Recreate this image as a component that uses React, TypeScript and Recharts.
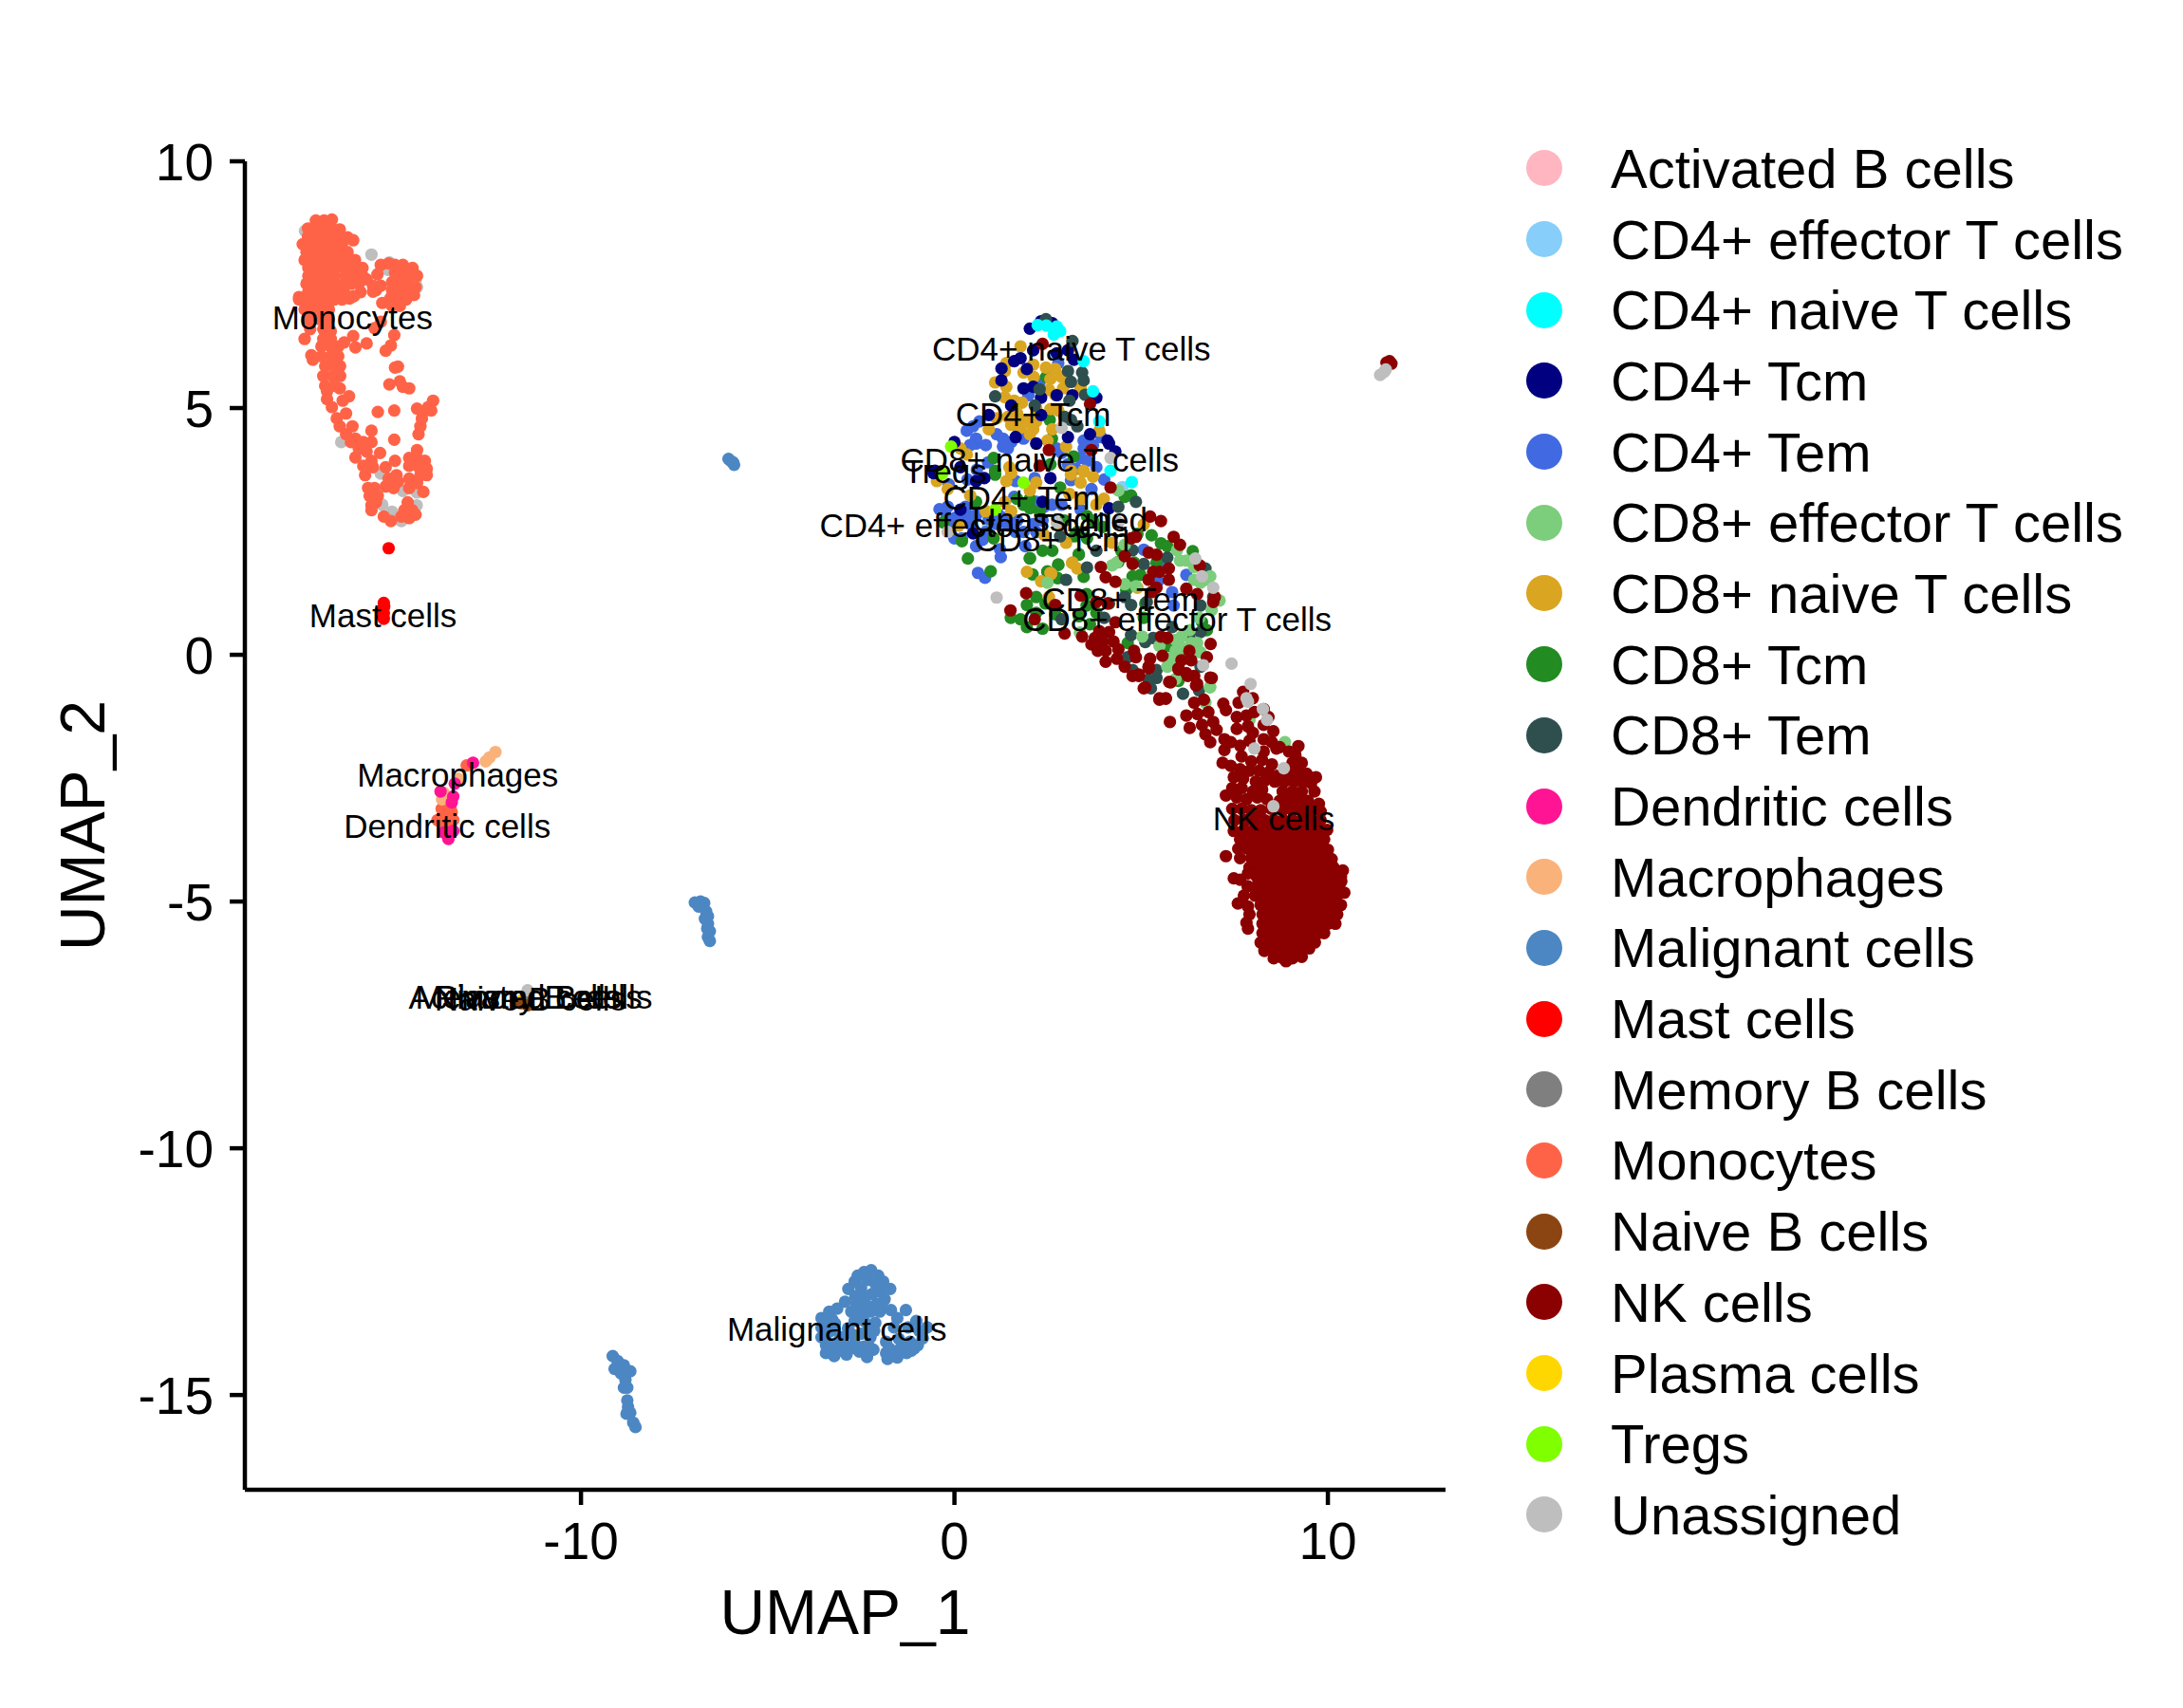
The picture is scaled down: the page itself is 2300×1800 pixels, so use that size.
import { Label, Legend, Scatter, ScatterChart, XAxis, YAxis } from "recharts";

const FONT = '"Liberation Sans", Arial, sans-serif';

const categories = [
  "Activated B cells", "CD4+ effector T cells", "CD4+ naive T cells", "CD4+ Tcm", "CD4+ Tem",
  "CD8+ effector T cells", "CD8+ naive T cells", "CD8+ Tcm", "CD8+ Tem", "Dendritic cells",
  "Macrophages", "Malignant cells", "Mast cells", "Memory B cells", "Monocytes",
  "Naive B cells", "NK cells", "Plasma cells", "Tregs", "Unassigned",
];
const categoryColors = [
  "#FFB6C1", "#87CEFA", "#00FFFF", "#000080", "#4169E1",
  "#7CCD7C", "#DAA520", "#228B22", "#2F4F4F", "#FF1493",
  "#FAB27B", "#4C87C3", "#FF0000", "#7F7F7F", "#FF6347",
  "#8B4513", "#8B0000", "#FFD700", "#7FFF00", "#BEBEBE",
];

const xTicks = [-10, 0, 10];
const yTicks = [-15, -10, -5, 0, 5, 10];

const labelNames = [
  "Monocytes", "Mast cells", "Macrophages", "Dendritic cells", "Activated B cells", "Memory B cells",
  "Plasma cells", "Naive B cells", "CD4+ naive T cells", "CD4+ Tcm", "CD8+ naive T cells", "Tregs",
  "CD4+ Tem", "Unassigned", "CD4+ effector T cells", "CD8+ Tcm", "CD8+ Tem", "CD8+ effector T cells",
  "NK cells", "Malignant cells",
];
const labelX = [-16.12, -15.3, -13.3, -13.58, -11.35, -11.4, -11.4, -11.35, 3.13, 2.11, 2.28, -0.25, 1.8, 2.82, 0.53, 2.61, 4.44, 5.96, 8.55, -3.15];
const labelY = [6.83, 0.79, -2.44, -3.46, -6.94, -6.94, -6.94, -6.96, 6.21, 4.87, 3.96, 3.73, 3.19, 2.75, 2.62, 2.33, 1.13, 0.73, -3.31, -13.67];

const activatedB = [[-11.5, -6.95]];
const memoryB = [[-11.42, -6.86]];
const naiveB = [[-11.6, -7.06], [-11.43, -7.1]];
const plasma = [[-11.55, -6.98]];
const cd4Effector = [[4.5, 3.4], [0.9, 2.6]];
const tregs = [[-0.09, 4.22], [-0.33, 3.67], [-0.35, 3.68], [1.85, 3.49], [1.09, 2.94]];
const mast = [[-15.15, 2.16], [-15.28, 1.05], [-15.27, 0.98], [-15.3, 0.9], [-15.28, 0.84], [-15.3, 0.77], [-15.28, 0.73]];
const macrophages = [[-12.29, -1.97], [-12.45, -2.08], [-12.55, -2.16], [-13.29, -2.51], [-13.67, -2.8], [-13.72, -2.93]];
const dendritic = [
  [-12.89, -2.19], [-13.38, -2.61], [-13.76, -2.77], [-13.42, -2.87], [-13.46, -2.99], [-13.55, -3.73],
  [-13.55, -3.6], [-13.42, -3.57], [-13.67, -3.6],
];
const malignant = [
  [-6.05, 3.97], [-5.98, 3.92], [-5.9, 3.85], [-5.93, 3.9],
  [-6.95, -5.02], [-6.8, -5.0], [-6.7, -5.03], [-6.85, -5.1], [-6.65, -5.2], [-6.6, -5.3], [-6.68, -5.35],
  [-6.6, -5.45], [-6.55, -5.6], [-6.6, -5.72], [-6.55, -5.8], [-6.62, -5.55],
  [-9.15, -14.21], [-9.02, -14.31], [-9.1, -14.47], [-8.85, -14.4], [-8.68, -14.52], [-8.93, -14.56], [-8.81, -14.69],
  [-8.76, -14.85], [-8.85, -14.85], [-8.76, -15.11], [-8.74, -15.24], [-8.68, -15.36], [-8.78, -15.38], [-8.6, -15.56], [-8.54, -15.65],
  [-2.23, -12.47], [-2.42, -12.51], [-2.59, -12.58], [-2.67, -12.7], [-2.04, -12.58], [-2.34, -12.67], [-2.12, -12.74],
  [-1.91, -12.7], [-1.72, -12.85], [-2.84, -12.85], [-2.5, -12.83], [-2.0, -12.9], [-2.46, -12.96], [-1.87, -13.06],
  [-2.93, -13.11], [-2.63, -13.15], [-2.38, -13.15], [-2.08, -13.15], [-3.14, -13.25], [-3.35, -13.31], [-3.56, -13.44],
  [-2.76, -13.31], [-2.5, -13.31], [-2.25, -13.31], [-2.0, -13.31], [-1.7, -13.28], [-1.3, -13.28], [-1.53, -13.44],
  [-3.27, -13.47], [-2.67, -13.5], [-2.42, -13.5], [-2.12, -13.54], [-1.02, -13.5], [-1.24, -13.63], [-0.73, -13.63],
  [-0.94, -13.7], [-1.62, -13.63], [-3.56, -13.63], [-3.31, -13.7], [-3.56, -13.83], [-3.05, -13.83], [-2.76, -13.76],
  [-2.5, -13.76], [-2.25, -13.83], [-1.83, -13.92], [-1.19, -13.92], [-0.98, -13.99], [-1.49, -13.86], [-3.44, -13.99],
  [-3.18, -13.95], [-2.93, -13.99], [-2.67, -13.95], [-2.42, -14.02], [-2.17, -14.08], [-3.44, -14.15], [-3.22, -14.21],
  [-2.89, -14.18], [-2.34, -14.23], [-1.83, -14.15], [-1.79, -14.27], [-1.53, -14.24], [-1.28, -14.15], [-1.57, -14.11], [-1.07, -14.05],
  [-3.4, -13.6], [-3.2, -13.55], [-3.45, -13.8], [-3.3, -14.0], [-3.05, -14.1], [-2.75, -14.05], [-2.55, -14.12], [-2.3, -14.0],
  [-2.15, -13.7], [-1.95, -13.2], [-1.4, -14.0], [-1.15, -14.1], [-0.85, -13.85], [-1.75, -14.05], [-2.85, -13.65], [-2.3, -13.6], [-2.65, -13.0], [-2.2, -12.95],
];
const monocytes = [
  [-17.1, 8.8], [-16.88, 8.8], [-16.67, 8.82], [-17.31, 8.64], [-17.09, 8.64], [-16.88, 8.64], [-16.67, 8.64], [-16.46, 8.62],
  [-17.31, 8.48], [-17.09, 8.48], [-16.88, 8.48], [-16.67, 8.48], [-16.46, 8.48], [-16.25, 8.46],
  [-17.45, 8.32], [-17.25, 8.32], [-17.0, 8.32], [-16.8, 8.32], [-16.6, 8.32], [-16.4, 8.32], [-16.1, 8.4],
  [-17.35, 8.16], [-17.1, 8.16], [-16.9, 8.16], [-16.65, 8.16], [-16.45, 8.16], [-16.25, 8.16],
  [-17.4, 8.0], [-17.15, 8.0], [-16.95, 8.0], [-16.7, 8.0], [-16.5, 8.0], [-16.25, 8.0], [-16.05, 8.0],
  [-17.3, 7.84], [-17.1, 7.84], [-16.85, 7.84], [-16.6, 7.84], [-16.35, 7.84], [-16.1, 7.84], [-15.85, 7.84],
  [-17.3, 7.68], [-17.05, 7.68], [-16.8, 7.68], [-16.6, 7.68], [-16.3, 7.68], [-16.05, 7.68], [-15.85, 7.68],
  [-17.35, 7.52], [-17.1, 7.52], [-16.85, 7.52], [-16.6, 7.52], [-16.35, 7.52], [-16.15, 7.52], [-15.95, 7.52],
  [-17.55, 7.25], [-17.3, 7.36], [-17.05, 7.36], [-16.85, 7.36], [-16.6, 7.36], [-16.35, 7.36],
  [-17.55, 7.2], [-17.3, 7.2], [-17.05, 7.2], [-16.85, 7.2], [-16.6, 7.2], [-16.4, 7.2], [-16.2, 7.22], [-16.08, 7.27], [-15.9, 7.35],
  [-17.4, 7.0], [-17.2, 7.0], [-16.95, 7.0], [-16.75, 7.0], [-17.3, 6.8], [-17.0, 6.8], [-16.75, 6.8],
  [-17.25, 6.6], [-16.9, 6.6], [-16.7, 6.56], [-17.4, 6.4], [-16.9, 6.4], [-16.7, 6.4],
  [-16.95, 6.25], [-16.7, 6.25], [-16.5, 6.25], [-16.34, 6.33], [-16.1, 6.46], [-16.04, 6.23], [-15.74, 6.31],
  [-16.95, 6.05], [-16.7, 6.05], [-16.5, 6.05], [-17.22, 6.07], [-17.18, 5.98], [-16.85, 5.85], [-16.6, 5.85], [-16.45, 5.85],
  [-16.9, 5.65], [-16.65, 5.65], [-16.45, 5.65], [-16.85, 5.45], [-16.6, 5.45],
  [-16.8, 5.34], [-16.46, 5.4], [-16.8, 5.18], [-16.38, 5.15], [-16.21, 5.24], [-16.67, 5.02], [-16.29, 4.89], [-16.54, 4.79],
  [-16.46, 4.63], [-16.12, 4.63], [-16.29, 4.47], [-16.04, 4.38], [-15.83, 4.31], [-15.61, 4.54], [-15.61, 4.31], [-16.16, 4.31],
  [-15.95, 4.18], [-15.74, 4.12], [-16.04, 4.0], [-15.61, 3.93], [-15.38, 4.09], [-15.83, 3.83], [-15.78, 3.64], [-15.57, 3.8],
  [-15.36, 7.9], [-15.15, 7.93], [-15.45, 7.71], [-14.98, 7.9], [-14.77, 7.9], [-14.51, 7.84], [-14.39, 7.68], [-14.98, 7.74],
  [-14.77, 7.74], [-14.6, 7.68], [-15.06, 7.55], [-14.85, 7.55], [-14.64, 7.52], [-14.43, 7.45], [-15.06, 7.39], [-14.85, 7.39],
  [-14.64, 7.36], [-14.47, 7.29], [-15.1, 7.23], [-14.9, 7.23], [-14.68, 7.2], [-15.32, 7.13], [-15.06, 7.07], [-14.85, 7.07],
  [-15.49, 7.39], [-15.57, 7.36], [-15.36, 7.48], [-15.74, 7.61], [-16.12, 7.26], [-15.57, 7.48], [-15.53, 6.62], [-15.36, 6.75],
  [-15.0, 6.48], [-15.09, 6.27], [-15.23, 6.16], [-14.9, 5.84], [-14.98, 5.82], [-14.85, 5.54], [-15.13, 5.48], [-14.77, 5.43], [-14.6, 5.4],
  [-15.44, 4.92], [-15.0, 4.95], [-15.0, 4.36], [-13.96, 5.15], [-14.09, 5.02], [-14.39, 4.99], [-14.22, 4.92], [-14.01, 4.95],
  [-14.26, 4.79], [-14.3, 4.63], [-14.35, 4.47], [-14.39, 4.15], [-14.6, 3.99], [-14.39, 3.99], [-14.18, 3.93], [-14.6, 3.83],
  [-14.34, 3.8], [-14.13, 3.77], [-14.3, 3.64], [-14.13, 3.64], [-14.6, 3.57], [-14.39, 3.48], [-14.22, 3.3], [-14.6, 3.38],
  [-14.98, 3.93], [-15.23, 3.8], [-14.94, 3.64], [-15.15, 3.57], [-14.9, 3.51], [-15.23, 3.41], [-15.02, 3.38],
  [-15.7, 3.38], [-15.53, 3.38], [-15.66, 3.22], [-15.44, 3.22], [-15.61, 3.03], [-15.49, 3.09], [-15.61, 2.93], [-15.28, 2.8], [-15.09, 2.71],
  [-14.64, 3.09], [-14.73, 2.93], [-14.52, 2.93], [-14.81, 2.8], [-14.6, 2.77], [-14.43, 2.84],
  [-13.06, -2.24], [-13.73, -3.12], [-13.46, -3.19], [-13.67, -3.28], [-13.84, -3.35], [-13.42, -3.35], [-13.59, -3.38], [-13.63, -3.47], [-13.5, -3.1],
];
const unassigned = [
  [-17.39, 8.59], [-16.44, 7.95], [-15.61, 8.11], [-15.17, 7.8], [-15.13, 7.95], [-14.39, 7.45], [-14.43, 7.57], [-16.42, 4.31],
  [-15.36, 3.67], [-14.77, 3.32], [-14.39, 3.29], [-15.32, 3.04], [-15.06, 2.9], [-14.81, 2.71], [-14.4, 3.03],
  [-11.43, -6.8], [6.45, 1.95], [6.63, 1.59], [6.93, 1.36], [6.66, -0.21], [7.42, -0.18], [7.93, -0.59], [7.82, -0.88], [7.86, -0.95],
  [1.13, 1.16], [2.87, 4.6], [4.18, 3.99], [8.26, -1.1], [8.37, -1.32], [8.03, -1.9], [8.82, -2.3], [8.54, -3.07], [2.74, 2.68],
  [4.39, 2.68], [-0.18, 2.49], [11.4, 5.67], [11.5, 5.73], [11.55, 5.78],
];
const cd4Naive = [
  [2.46, 6.67], [2.23, 6.68], [2.74, 6.65], [2.83, 6.56], [2.66, 6.49], [3.46, 5.95], [3.71, 5.34], [3.88, 4.73], [4.18, 3.73], [4.75, 3.5],
];
const cd4Tcm = [
  [2.02, 6.61], [2.32, 6.76], [2.62, 6.72], [1.6, 5.95], [1.77, 6.01], [1.26, 5.8], [1.94, 5.79], [1.85, 5.4], [2.11, 5.43], [1.26, 5.56],
  [2.32, 5.21], [2.74, 5.26], [3.16, 5.26], [3.8, 5.21], [3.2, 5.98], [0.92, 4.86], [1.52, 5.05], [2.32, 4.86], [3.63, 4.47], [3.04, 4.41],
  [1.64, 4.41], [2.19, 4.28], [4.1, 4.34], [4.31, 4.12], [4.14, 4.28], [0.0, 4.31], [-0.52, 3.73], [0.16, 3.8], [2.74, 6.11], [3.04, 6.17],
  [2.11, 6.17], [2.57, 3.58], [0.8, 3.58], [-0.56, 3.68], [0.16, 2.94], [4.14, 2.97], [2.36, 3.1], [0.5, 2.46], [0.58, 3.52],
];
const cd4Tem = [
  [0.33, 4.54], [0.5, 4.63], [0.67, 4.73], [0.58, 4.28], [0.84, 4.25], [1.13, 4.47], [1.3, 4.38], [1.3, 4.22], [1.98, 5.26], [2.28, 5.53],
  [1.68, 4.44], [1.43, 4.18], [2.78, 5.91], [3.46, 4.34], [3.46, 4.18], [2.74, 4.18], [3.93, 4.41], [3.71, 4.25], [3.38, 3.99], [3.25, 3.77],
  [3.8, 3.8], [1.64, 3.52], [3.12, 3.54], [2.15, 3.58], [4.01, 3.55], [3.38, 2.94], [3.67, 3.36], [-0.26, 2.91], [-0.22, 2.75], [0.03, 2.78],
  [0.29, 2.78], [0.0, 2.36], [0.2, 2.36], [0.75, 2.33], [0.84, 2.49], [1.22, 2.14], [1.24, 1.98], [1.9, 2.2], [0.58, 2.2], [0.63, 1.66],
  [0.82, 1.56], [1.85, 2.49], [1.68, 2.72], [2.19, 2.49], [2.36, 2.72], [2.61, 3.04], [-0.09, 2.56], [0.42, 2.65], [1.13, 2.65], [1.43, 2.62],
  [1.18, 2.84], [0.3, 3.0], [-0.4, 2.95], [0.6, 2.85], [1.6, 3.2], [0.35, 3.55], [0.6, 3.75], [0.9, 3.9], [-0.15, 3.45], [6.21, 1.62],
  [5.62, 1.86], [5.07, 2.13], [5.45, 1.49], [5.83, 1.27], [5.87, 1.0],
  [0.16, 2.72], [0.42, 2.81], [-0.18, 3.0], [0.92, 2.75], [1.39, 2.78], [1.64, 2.49], [2.11, 2.65], [2.4, 3.0], [2.19, 3.1], [2.87, 3.04],
  [0.58, 4.38], [0.42, 4.25], [1.52, 4.31], [1.85, 4.38], [2.87, 4.09], [3.55, 3.93], [3.04, 3.86],
];
const cd8Naive = [
  [1.77, 6.25], [2.11, 5.88], [1.39, 5.91], [1.35, 5.75], [1.09, 5.52], [1.39, 5.43], [1.35, 5.22], [0.92, 4.57], [1.85, 5.72], [2.12, 5.63],
  [2.45, 5.82], [2.7, 5.79], [2.57, 5.59], [2.87, 5.63], [2.53, 5.37], [2.91, 5.4], [1.6, 5.15], [1.81, 5.11], [1.13, 4.79], [1.43, 4.82],
  [1.68, 4.89], [1.94, 4.76], [2.19, 4.73], [1.52, 4.66], [1.77, 4.6], [2.02, 4.47], [2.57, 4.98], [2.78, 4.95], [2.62, 4.57], [2.49, 4.34],
  [2.99, 4.22], [3.88, 4.54], [3.46, 3.73], [3.12, 3.73], [0.16, 4.18], [0.33, 4.06], [1.47, 3.8], [3.38, 5.4], [-0.47, 3.52], [1.52, 3.68],
  [1.39, 3.52], [2.02, 3.33], [2.19, 3.49], [3.12, 3.65], [3.46, 3.71], [3.71, 3.61], [3.38, 3.49], [3.08, 3.26], [3.38, 3.16], [4.0, 3.16],
  [3.8, 3.04], [0.84, 2.91], [1.52, 2.91], [0.12, 2.62], [2.4, 2.43], [2.99, 2.27], [4.22, 2.27], [3.16, 1.87], [1.94, 1.68], [2.57, 1.66],
  [2.32, 1.49], [2.83, 2.59], [-0.18, 3.36], [0.42, 3.23], [1.35, 3.1], [3.29, 1.75], [2.59, 1.64], [3.15, 1.86], [2.53, 1.17], [5.07, 2.64], [4.9, 1.36],
  [2.11, 4.57], [1.85, 4.7], [2.7, 5.27], [2.19, 5.0],
];
const cd8Tem = [
  [3.04, 5.75], [3.42, 5.72], [3.12, 5.53], [3.46, 5.56], [3.5, 5.27], [3.08, 5.15], [2.28, 5.38], [2.15, 5.05], [1.09, 5.24], [2.95, 4.82],
  [3.29, 4.63], [3.12, 4.76], [3.16, 6.36], [2.45, 6.8], [4.39, 3.0], [4.86, 3.1], [2.83, 2.4], [3.55, 1.77], [2.99, 1.52], [3.8, 2.11],
  [4.14, 1.04], [4.56, 1.17], [4.73, 1.01], [5.15, 1.07], [4.01, 0.75], [2.87, 0.72], [5.11, 0.26], [4.77, -0.31], [5.41, -0.31], [5.41, -0.47],
  [5.26, -0.68], [6.12, -0.79], [6.59, 0.46], [6.59, -0.24], [5.7, 1.97], [5.07, 1.84], [4.77, 2.12], [6.59, 1.0], [5.32, 0.34], [5.83, 0.56],
  [4.73, 0.4], [6.72, 1.75], [6.93, 1.17], [4.64, -0.05], [6.55, -0.72], [6.29, 0.37], [5.2, -0.5],
];
const cd8Tcm = [
  [0.36, 1.95], [0.97, 1.69], [2.02, 1.96], [2.62, 2.11], [2.36, 2.11], [2.78, 1.83], [2.09, 1.63], [2.49, 1.69], [3.46, 1.58], [2.74, 1.56],
  [3.33, 2.04], [4.39, 1.88], [4.73, 3.23], [4.56, 3.2], [2.83, 3.39], [1.09, 3.65], [0.58, 3.1], [1.85, 3.04], [2.02, 2.97], [-0.3, 2.68],
  [0.2, 2.3], [1.05, 2.36], [3.21, 2.4], [3.55, 2.81], [4.6, 1.31], [2.46, 5.63], [2.55, 4.76], [2.61, 4.38], [3.19, 4.02], [1.05, 3.99],
  [1.09, 3.73], [2.57, 3.86], [2.02, 1.95], [2.78, 1.82], [2.49, 1.68], [2.77, 1.55], [3.33, 2.03], [1.51, 0.75], [1.77, 0.72], [1.94, 0.56],
  [2.36, 0.53], [1.94, 1.01], [2.19, 1.17], [2.44, 1.04], [2.19, 0.85], [2.7, 0.82], [3.54, 1.0], [3.54, 1.23], [3.8, 0.85], [3.33, 0.78],
  [3.63, 0.62], [4.64, 0.24], [5.74, 0.18], [4.77, 1.59], [4.98, 1.62], [4.47, 2.1], [4.9, 2.45], [5.28, 2.42], [5.53, 2.26], [5.7, 2.2],
  [4.81, 1.87], [5.41, 1.87], [6.38, 2.1], [6.63, 0.66], [6.76, 0.5], [5.11, 1.04], [5.07, 0.75], [6.0, -0.53],
  [2.02, 3.16], [1.68, 3.16], [2.28, 2.91], [2.95, 2.72], [3.29, 2.49], [3.55, 2.36], [3.97, 2.59], [3.71, 2.72],
];
const cd8Effector = [
  [6.04, 1.91], [6.21, 1.91], [6.42, 1.78], [6.85, 1.59], [6.59, 1.46], [6.42, 1.52], [5.96, 2.12], [4.22, 1.81], [4.35, 1.87], [2.49, 1.46],
  [4.56, 1.43], [4.86, 1.39], [3.36, 0.45], [7.1, 1.1], [5.03, 0.37], [5.49, 0.18], [5.92, 0.3], [6.08, 0.37], [6.5, 0.24], [6.59, 0.05],
  [5.92, 0.08], [5.7, -0.24], [5.83, -0.05], [6.84, -0.66], [4.56, 2.23], [6.72, 1.52], [6.08, 0.14], [6.34, 0.24], [6.25, 0.05], [6.89, 0.91],
  [4.39, 3.33], [6.85, -0.65], [6.72, -0.97], [5.72, -0.23], [8.85, -1.77], [7.9, -1.32], [5.92, -0.49], [6.3, 0.5], [6.55, 0.75],
];
const nkTail = [
  [2.36, 6.3], [3.63, 5.08], [3.67, 4.15], [2.53, 4.15], [2.28, 3.83], [4.18, 3.39], [3.92, 1.78], [4.05, 1.57], [4.31, 1.48], [1.92, 1.25],
  [1.5, 0.9], [2.15, 0.72], [2.7, 1.01], [2.95, 0.43], [3.38, 1.2], [3.8, 1.07], [4.1, 1.04], [4.31, 0.66], [3.88, 0.48], [4.14, 0.46],
  [3.76, 0.34], [3.97, 0.27], [4.26, 0.27], [3.42, 0.37], [3.67, 0.21], [3.84, 0.08], [4.05, 0.08], [4.39, 0.11], [4.05, -0.14], [4.35, -0.08],
  [4.56, -0.24], [4.77, -0.43], [4.94, -0.4], [4.81, 0.08], [4.86, -0.05], [5.24, -0.08], [5.2, -0.24], [5.57, -0.02], [5.53, 0.37], [5.7, 0.34],
  [5.11, -0.66], [5.49, -0.88], [5.66, -0.88], [5.79, -0.56], [6.08, -0.11], [6.34, -0.11], [6.0, -0.27], [6.29, 0.08], [6.21, -0.37], [6.42, -0.43],
  [6.5, -0.59], [6.89, -0.47], [6.86, 0.22], [6.76, -0.05], [4.86, 2.39], [5.87, 2.39], [6.04, 2.23], [5.2, 2.07], [5.41, 2.03], [5.32, 1.68],
  [5.74, 1.75], [5.49, 1.68], [5.2, 1.52], [5.74, 1.52], [5.28, 1.27], [5.41, 1.36], [6.21, 1.34], [6.5, 1.23], [6.97, 1.17], [6.93, 1.07],
  [6.57, 1.81], [4.73, 2.36], [4.56, 2.0], [4.77, 1.84], [5.53, 2.71], [5.24, 2.8], [5.2, -0.27], [4.94, -0.43], [5.07, -0.68], [5.49, -0.91],
  [5.66, -0.89], [5.75, -0.55], [6.0, -0.3], [6.25, -0.43], [6.47, -0.62], [6.42, -0.97], [5.77, -1.36], [6.21, -1.23], [6.51, -1.2], [6.8, -1.16],
  [6.68, -0.91], [6.3, -1.48], [6.63, -1.42], [6.93, -1.36], [7.02, -1.52], [6.72, -1.61], [6.85, -1.77], [6.85, -0.46],
  [11.57, 5.92], [11.65, 5.95], [11.6, 5.88], [11.7, 5.9],
];
const nkBody = [
  [7.73, -0.75], [7.61, -0.97], [7.99, -0.88], [7.2, -0.99], [7.27, -1.12], [7.56, -1.26], [7.82, -1.23], [8.03, -1.16], [8.28, -1.1], [8.41, -1.26],
  [8.28, -1.42], [7.56, -1.5], [7.86, -1.45], [7.99, -1.58], [8.54, -1.55], [7.23, -1.71], [7.4, -1.77], [7.65, -1.84], [7.9, -1.74], [8.28, -1.71],
  [8.5, -1.77], [8.71, -1.87], [9.21, -1.85], [7.23, -1.93], [8.28, -1.96], [8.62, -1.9], [8.96, -1.96], [9.13, -2.03], [7.18, -2.19], [7.69, -2.06],
  [7.95, -2.16], [8.24, -2.13], [8.5, -2.22], [9.3, -2.19], [9.05, -2.19], [7.4, -2.25], [7.65, -2.32], [7.9, -2.35], [8.16, -2.35], [8.41, -2.38],
  [8.66, -2.45], [8.96, -2.38], [9.21, -2.38], [9.43, -2.41], [9.68, -2.48], [7.48, -2.48], [7.73, -2.51], [8.07, -2.57], [8.33, -2.54], [8.58, -2.57],
  [8.83, -2.57], [9.09, -2.57], [9.34, -2.57], [9.55, -2.6], [7.44, -2.7], [7.69, -2.7], [7.99, -2.77], [8.24, -2.73], [8.79, -2.77], [9.05, -2.77],
  [9.3, -2.77], [9.64, -2.77], [7.27, -2.85], [7.56, -2.89], [7.82, -2.93], [8.11, -2.89], [8.37, -2.93], [8.71, -2.96], [8.96, -2.96], [9.21, -2.96],
  [9.47, -2.96], [9.76, -3.02], [7.44, -3.12], [7.69, -3.12], [7.95, -3.15], [8.2, -3.15], [8.48, -3.12], [8.79, -3.15], [9.05, -3.15], [9.3, -3.15],
  [9.55, -3.15], [9.81, -3.18],
  [7.5, -3.35], [7.8, -3.35], [8.05, -3.35], [8.3, -3.35], [8.55, -3.35], [8.8, -3.35], [9.05, -3.35], [9.3, -3.35], [9.55, -3.35], [9.8, -3.35],
  [7.48, -3.57], [7.75, -3.55], [8.0, -3.55], [8.25, -3.55], [8.5, -3.55], [8.75, -3.55], [9.0, -3.55], [9.25, -3.55], [9.5, -3.55], [9.75, -3.55], [9.98, -3.55],
  [7.65, -3.74], [7.9, -3.74], [8.15, -3.74], [8.4, -3.74], [8.65, -3.74], [8.9, -3.74], [9.15, -3.74], [9.4, -3.74], [9.65, -3.74], [9.9, -3.74],
  [7.27, -4.08], [7.6, -3.93], [7.85, -3.93], [8.1, -3.93], [8.35, -3.93], [8.6, -3.93], [8.85, -3.93], [9.1, -3.93], [9.35, -3.93], [9.6, -3.93], [9.85, -3.93], [10.0, -3.95],
  [7.65, -4.12], [7.95, -4.12], [8.2, -4.12], [8.45, -4.12], [8.7, -4.12], [8.95, -4.12], [9.2, -4.12], [9.45, -4.12], [9.7, -4.12], [9.95, -4.12], [10.1, -4.14],
  [7.9, -4.31], [8.15, -4.31], [8.4, -4.31], [8.65, -4.31], [8.9, -4.31], [9.15, -4.31], [9.4, -4.31], [9.65, -4.31], [9.9, -4.31], [10.15, -4.31], [10.4, -4.37],
  [7.48, -4.53], [7.65, -4.56], [7.86, -4.43], [8.1, -4.5], [8.35, -4.5], [8.6, -4.5], [8.85, -4.5], [9.1, -4.5], [9.35, -4.5], [9.6, -4.5], [9.85, -4.5], [10.1, -4.5], [10.35, -4.5],
  [10.36, -4.59], [7.85, -4.69], [8.1, -4.69], [8.35, -4.69], [8.6, -4.69], [8.85, -4.69], [9.1, -4.69], [9.35, -4.69], [9.6, -4.69], [9.85, -4.69], [10.1, -4.69], [10.3, -4.69],
  [10.44, -4.82], [7.75, -4.88], [8.05, -4.88], [8.25, -4.88], [8.5, -4.88], [8.75, -4.88], [9.0, -4.88], [9.25, -4.88], [9.5, -4.88], [9.75, -4.88], [10.0, -4.88], [10.25, -4.88],
  [7.59, -5.04], [7.86, -5.1], [8.2, -5.07], [8.45, -5.07], [8.7, -5.07], [8.95, -5.07], [9.2, -5.07], [9.45, -5.07], [9.7, -5.07], [9.95, -5.07], [10.2, -5.07], [10.35, -5.07],
  [7.9, -5.26], [8.25, -5.26], [8.5, -5.26], [8.75, -5.26], [9.0, -5.26], [9.25, -5.26], [9.5, -5.26], [9.75, -5.26], [10.0, -5.26], [10.25, -5.26],
  [7.82, -5.43], [8.25, -5.45], [8.5, -5.45], [8.75, -5.45], [9.0, -5.45], [9.25, -5.45], [9.5, -5.45], [9.75, -5.45], [10.0, -5.45], [10.2, -5.45],
  [7.86, -5.55], [8.25, -5.64], [8.5, -5.64], [8.75, -5.64], [9.0, -5.64], [9.25, -5.64], [9.5, -5.64], [9.75, -5.64], [9.9, -5.64],
  [8.2, -5.83], [8.45, -5.83], [8.7, -5.83], [8.95, -5.83], [9.2, -5.83], [9.45, -5.83], [9.65, -5.83],
  [8.3, -6.0], [8.55, -6.0], [8.8, -6.0], [9.05, -6.0], [9.3, -6.0], [9.5, -5.95], [8.55, -6.15], [8.8, -6.15], [9.05, -6.15], [9.3, -6.12], [8.88, -6.21],
];
const nkCore = [
  [8.18, -3.45], [8.42, -3.46], [8.68, -3.45], [8.92, -3.44], [9.18, -3.46], [9.42, -3.45], [9.68, -3.45],
  [8.12, -3.65], [8.38, -3.64], [8.62, -3.65], [8.88, -3.66], [9.12, -3.65], [9.38, -3.64], [9.62, -3.65], [9.85, -3.65],
  [7.98, -3.84], [8.28, -3.83], [8.52, -3.84], [8.78, -3.83], [9.02, -3.84], [9.28, -3.83], [9.52, -3.84], [9.78, -3.83],
  [8.08, -4.03], [8.32, -4.02], [8.58, -4.03], [8.82, -4.02], [9.08, -4.03], [9.32, -4.02], [9.58, -4.03], [9.82, -4.02],
  [8.03, -4.22], [8.28, -4.21], [8.52, -4.22], [8.78, -4.21], [9.02, -4.22], [9.28, -4.21], [9.52, -4.22], [9.78, -4.21], [10.02, -4.22],
  [8.22, -4.41], [8.48, -4.4], [8.72, -4.41], [8.98, -4.4], [9.22, -4.41], [9.48, -4.4], [9.72, -4.41], [9.98, -4.4], [10.25, -4.41],
  [8.22, -4.6], [8.48, -4.6], [8.72, -4.59], [8.98, -4.6], [9.22, -4.59], [9.48, -4.6], [9.72, -4.59], [9.98, -4.6], [10.22, -4.6],
  [8.15, -4.78], [8.38, -4.79], [8.62, -4.78], [8.88, -4.79], [9.12, -4.78], [9.38, -4.79], [9.62, -4.78], [9.88, -4.79], [10.12, -4.78],
  [8.32, -4.97], [8.58, -4.98], [8.82, -4.97], [9.08, -4.98], [9.32, -4.97], [9.58, -4.98], [9.82, -4.97], [10.08, -4.98],
  [8.32, -5.16], [8.58, -5.17], [8.82, -5.16], [9.08, -5.17], [9.32, -5.16], [9.58, -5.17], [9.82, -5.16], [10.08, -5.17],
  [8.38, -5.35], [8.62, -5.36], [8.88, -5.35], [9.12, -5.36], [9.38, -5.35], [9.62, -5.36], [9.88, -5.35], [10.1, -5.36],
  [8.38, -5.55], [8.62, -5.54], [8.88, -5.55], [9.12, -5.54], [9.38, -5.55], [9.62, -5.54], [9.85, -5.55],
  [8.32, -5.73], [8.58, -5.74], [8.82, -5.73], [9.08, -5.74], [9.32, -5.73], [9.55, -5.74],
  [8.42, -5.92], [8.68, -5.91], [8.92, -5.92], [9.18, -5.91], [9.4, -5.92], [8.68, -6.08], [8.92, -6.08], [9.18, -6.06],
];
const nk = [...nkTail, ...nkBody, ...nkCore];

// draw order, not legend order: later series sit on top
const series: [string, number[][]][] = [
  ["Activated B cells", activatedB],
  ["Plasma cells", plasma],
  ["Memory B cells", memoryB],
  ["Naive B cells", naiveB],
  ["CD4+ effector T cells", cd4Effector],
  ["CD4+ Tem", cd4Tem],
  ["CD8+ Tcm", cd8Tcm],
  ["CD8+ naive T cells", cd8Naive],
  ["CD4+ Tcm", cd4Tcm],
  ["CD8+ Tem", cd8Tem],
  ["CD4+ naive T cells", cd4Naive],
  ["CD8+ effector T cells", cd8Effector],
  ["NK cells", nk],
  ["Unassigned", unassigned],
  ["Malignant cells", malignant],
  ["Mast cells", mast],
  ["Monocytes", monocytes],
  ["Macrophages", macrophages],
  ["Dendritic cells", dendritic],
  ["Tregs", tregs],
];

function toPoints(rows: number[][]) {
  return rows.map(([x, y]) => ({ x, y }));
}

const labelRows = labelNames.map((name, i) => ({ name, x: labelX[i], y: labelY[i] }));

function colorOf(name: string) {
  return categoryColors[categories.indexOf(name)];
}

function LegendList() {
  return (
    <div style={{ width: 690, fontFamily: FONT, fontSize: 58, color: "#000" }}>
      {categories.map((name, i) => (
        <div key={name} style={{ display: "flex", alignItems: "center", height: 74.7, whiteSpace: "nowrap" }}>
          <svg width={100} height={40} style={{ flexShrink: 0 }}>
            <circle cx={30} cy={20} r={19} fill={categoryColors[i]} />
          </svg>
          <span>{name}</span>
        </div>
      ))}
    </div>
  );
}

export default function App() {
  return (
    <div style={{ position: "absolute", left: 0, top: 0, width: 2300, height: 1800, background: "#fff" }}>
      <ScatterChart width={2300} height={1800} margin={{ top: 170, right: 87, bottom: 0, left: 0 }}>
        <XAxis
          type="number"
          dataKey="x"
          domain={[-19.0, 13.15]}
          ticks={xTicks}
          allowDataOverflow
          height={230}
          tickSize={16}
          tickMargin={18}
          axisLine={{ stroke: "#000", strokeWidth: 4.5 }}
          tickLine={{ stroke: "#000", strokeWidth: 4.5 }}
          tick={{ fontSize: 55, fill: "#000", fontFamily: FONT }}
        >
          <Label value="UMAP_1" position="insideBottom" offset={78} style={{ fontSize: 66, fill: "#000", fontFamily: FONT }} />
        </XAxis>
        <YAxis
          type="number"
          dataKey="y"
          domain={[-16.92, 10.0]}
          ticks={yTicks}
          allowDataOverflow
          width={258}
          tickSize={16}
          tickMargin={17}
          axisLine={{ stroke: "#000", strokeWidth: 4.5 }}
          tickLine={{ stroke: "#000", strokeWidth: 4.5 }}
          tick={{ fontSize: 55, fill: "#000", fontFamily: FONT }}
        >
          <Label
            value="UMAP_2"
            angle={-90}
            position="insideLeft"
            offset={87}
            style={{ fontSize: 66, fill: "#000", fontFamily: FONT, textAnchor: "middle" }}
          />
        </YAxis>
        <Legend
          layout="vertical"
          align="right"
          verticalAlign="top"
          content={() => <LegendList />}
          wrapperStyle={{ left: 1597, right: "auto", top: 140 }}
        />
        {series.map(([name, rows]) => (
          <Scatter
            key={name}
            name={name}
            data={toPoints(rows)}
            isAnimationActive={false}
            shape={(props: any) => <circle cx={props.cx} cy={props.cy} r={6.6} fill={colorOf(name)} />}
          />
        ))}
        <Scatter
          name="labels"
          data={labelRows}
          isAnimationActive={false}
          shape={(props: any) => (
            <text
              x={props.cx}
              y={props.cy}
              textAnchor="middle"
              dominantBaseline="central"
              fontSize={35}
              fontFamily={FONT}
              fill="#000"
            >
              {props.payload?.name ?? props.name}
            </text>
          )}
        />
      </ScatterChart>
    </div>
  );
}
